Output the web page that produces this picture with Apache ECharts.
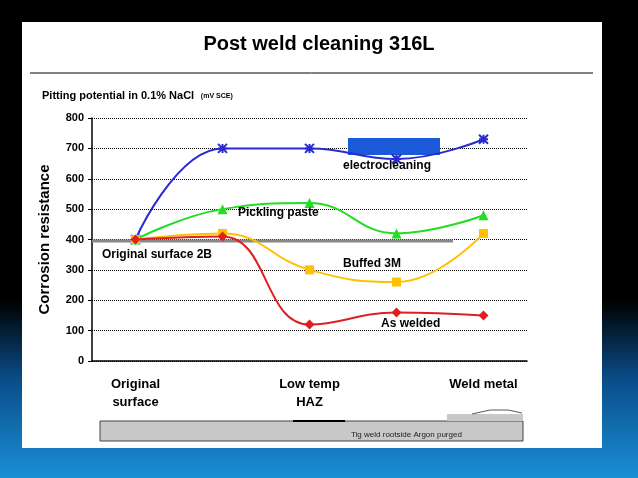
<!DOCTYPE html>
<html><head><meta charset="utf-8">
<script src="https://cdn.jsdelivr.net/npm/echarts@6/dist/echarts.min.js"></script>
<style>
html,body{margin:0;padding:0;width:638px;height:478px;overflow:hidden;
background:linear-gradient(to bottom,#000 0px,#000 300px,#0a4d8a 380px,#1a8fd6 478px);}
#panel{position:absolute;left:22px;top:22px;width:580px;height:426px;background:#fff;}
#c{position:absolute;left:0;top:0;width:638px;height:478px;}
</style></head><body>
<div id="panel"></div><div id="c"></div>
<script>
const categories=['Original\nsurface','Treated\nparent metal','Low temp\nHAZ','High temp\nHAZ','Weld metal'];
const electrocleaning=[400,700,700,665,730];
const pickling=[400,500,520,420,480];
const buffed=[400,420,300,260,420];
const asWelded=[400,410,120,160,150];
const original2B=[395,395];
const yTicks=[0,100,200,300,400,500,600,700,800];
const cross='path://M0,0 L10,10 M10,0 L0,10 M5,0 L5,10 M0,5 L10,5';
const chart=echarts.init(document.getElementById('c'),null,{renderer:'canvas'});
function ser(name,data,color,symbol,size){return {name,type:'line',data,smooth:0.45,
 lineStyle:{color,width:2},itemStyle:{color,borderColor:color,borderWidth:symbol===cross?2:0},
 symbol,symbolSize:size,z:3};}
chart.setOption({
 animation:false,
 grid:{left:92,right:111,top:118,bottom:117},
 xAxis:[{type:'category',data:categories,boundaryGap:true,
  axisLine:{lineStyle:{color:'#000',width:1.5}},axisTick:{lineStyle:{color:'#000',width:1.5},length:5},
  axisLabel:{color:'#000',fontFamily:'Liberation Sans',fontWeight:'bold',fontSize:13,lineHeight:18,margin:14}},
  {type:'value',min:0,max:1,show:false}],
 yAxis:{type:'value',min:0,max:800,interval:100,
  name:'Corrosion resistance',nameLocation:'middle',nameGap:40,
  nameTextStyle:{color:'#000',fontFamily:'Liberation Sans',fontWeight:'bold',fontSize:15},
  axisLine:{show:true,lineStyle:{color:'#000',width:1.5}},axisTick:{show:true,length:4},
  axisLabel:{color:'#000',fontFamily:'Liberation Sans',fontWeight:'bold',fontSize:11},
  splitLine:{lineStyle:{color:'#000',type:'dotted',width:1}}},
 series:[
  {name:'Original surface 2B',type:'line',xAxisIndex:1,data:[[0,395],[0.83,395]],symbol:'none',
   lineStyle:{color:'#888',width:3},z:2},
  ser('electrocleaning',electrocleaning,'#2a2ad0',cross,9),
  ser('Pickling paste',pickling,'#22dd22','triangle',10),
  ser('Buffed 3M',buffed,'#ffc000','rect',9),
  ser('As welded',asWelded,'#e02020','diamond',10)
 ],
 graphic:[
  {type:'text',left:'center',top:34,style:{text:'Post weld cleaning 316L',fontFamily:'Liberation Sans',fontWeight:'bold',fontSize:20,fill:'#000'}},
  {type:'line',shape:{x1:30,y1:73,x2:593,y2:73},style:{stroke:'#000',lineWidth:1}},
  {type:'text',left:42,top:90,style:{rich:{a:{fontFamily:'Liberation Sans',fontWeight:'bold',fontSize:11,fill:'#000'},b:{fontFamily:'Liberation Sans',fontWeight:'bold',fontSize:7,fill:'#000'}},text:'{a|Pitting potential in 0.1% NaCl}  {b|(mV SCE)}'}},
  {type:'rect',shape:{x:348,y:138,width:92,height:17},style:{fill:'#1a5ad8'},z:1},
  {type:'text',left:343,top:160,style:{text:'electrocleaning',fontFamily:'Liberation Sans',fontWeight:'bold',fontSize:12,fill:'#000'},z:10},
  {type:'text',left:238,top:207,style:{text:'Pickling paste',fontFamily:'Liberation Sans',fontWeight:'bold',fontSize:12,fill:'#000'},z:10},
  {type:'text',left:102,top:249,style:{text:'Original surface 2B',fontFamily:'Liberation Sans',fontWeight:'bold',fontSize:12,fill:'#000'},z:10},
  {type:'text',left:343,top:258,style:{text:'Buffed 3M',fontFamily:'Liberation Sans',fontWeight:'bold',fontSize:12,fill:'#000'},z:10},
  {type:'text',left:381,top:318,style:{text:'As welded',fontFamily:'Liberation Sans',fontWeight:'bold',fontSize:12,fill:'#000'},z:10},
  {type:'rect',shape:{x:100,y:421,width:423,height:20},style:{fill:'#c8c8c8',stroke:'#444',lineWidth:1}},
  {type:'polyline',shape:{points:[[293,421],[345,421]]},style:{stroke:'#000',lineWidth:2}},
  {type:'polygon',shape:{points:[[447,421],[447,414],[523,414],[523,421]]},style:{fill:'#c8c8c8'}},
  {type:'polyline',shape:{points:[[472,414],[490,410],[508,410],[522,413]]},style:{stroke:'#555',fill:'none',lineWidth:1}},
  {type:'text',left:351,top:431,style:{text:'Tig weld rootside Argon purged',fontFamily:'Liberation Sans',fontSize:8,fill:'#222'}}
 ]
});
</script></body></html>
